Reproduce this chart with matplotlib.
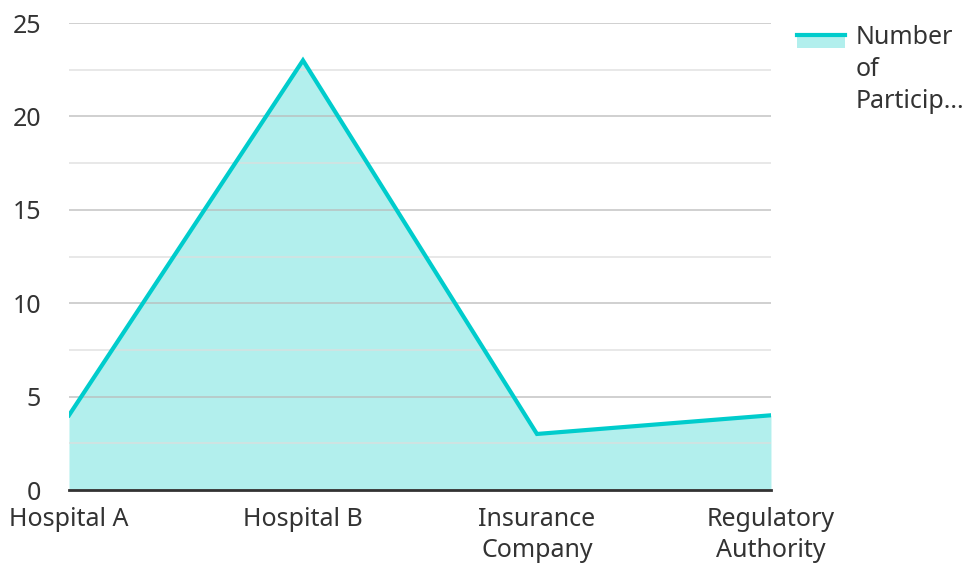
import matplotlib.pyplot as plt
from matplotlib.patches import Rectangle
from matplotlib.lines import Line2D
from matplotlib.ticker import MultipleLocator

plt.rcParams['font.family'] = ['Noto Sans', 'DejaVu Sans']

categories = ['Hospital A', 'Hospital B', 'Insurance\nCompany', 'Regulatory\nAuthority']
participants = [4, 23, 3, 4]
series_name = 'Number\nof\nParticip...'

line_color = '#00cccc'
fill_color = '#b2efed'
text_color = '#333333'

fig = plt.figure(figsize=(9.66, 5.64), dpi=100)
ax = fig.add_axes([0.0714, 0.1312, 0.7267, 0.828])

x = list(range(len(categories)))
ax.fill_between(x, participants, 0, color=fill_color, lw=0, zorder=2)
ax.plot(x, participants, color=line_color, lw=3, zorder=3, solid_joinstyle='miter')

ax.set_xlim(0, len(categories) - 1)
ax.set_ylim(0, 25)
ax.yaxis.set_major_locator(MultipleLocator(5))
ax.yaxis.set_minor_locator(MultipleLocator(2.5))
# grid sits over the fill, like the original's translucent area
ax.grid(which='major', axis='y', color='#bbbbbb', lw=1.2, alpha=0.8, zorder=2.5)
ax.grid(which='minor', axis='y', color='#dddddd', lw=1.2, alpha=0.8, zorder=2.5)
ax.set_axisbelow(False)

ax.set_xticks(x)
ax.set_xticklabels(categories, linespacing=1.34)
ax.tick_params(axis='both', which='both', length=0, labelsize=18, colors=text_color)
ax.tick_params(axis='x', pad=12)
ax.tick_params(axis='y', pad=20)

for side in ['top', 'right', 'left']:
    ax.spines[side].set_visible(False)
ax.spines['bottom'].set_color(text_color)
ax.spines['bottom'].set_linewidth(2)
ax.spines['bottom'].set_zorder(4)

# legend drawn by hand: swatch + wrapped label
W, H = fig.get_size_inches() * fig.dpi
fig.add_artist(Rectangle((797 / W, 1 - 48 / H), 48 / W, 12 / H,
                         transform=fig.transFigure, color=fill_color, lw=0))
fig.add_artist(Line2D([797 / W, 845 / W], [1 - 35 / H, 1 - 35 / H],
                      transform=fig.transFigure, color=line_color, lw=3))
fig.text(856 / W, 1 - 25 / H, series_name, ha='left', va='top',
         fontsize=18, color=text_color, linespacing=1.38)

fig.savefig('out.png', dpi=100)
